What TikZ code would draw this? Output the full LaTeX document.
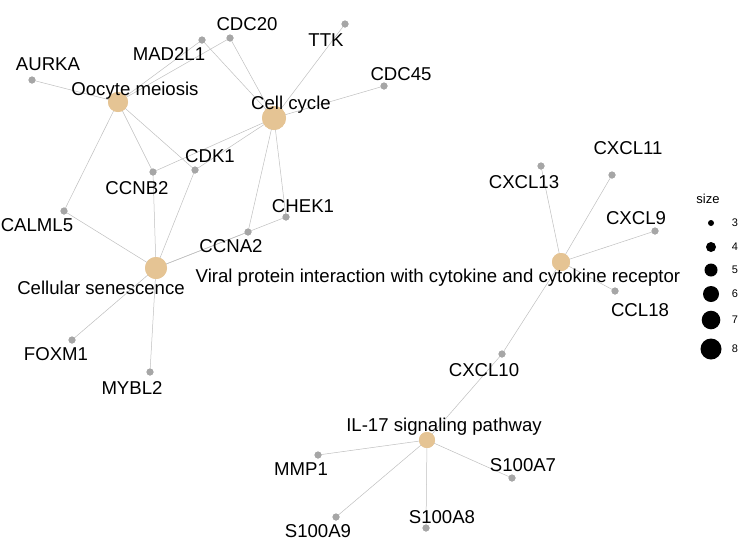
\documentclass[tikz,border=0pt]{standalone}
\usepackage{fontspec}
\setmainfont{Liberation Sans}
\usetikzlibrary{positioning}
\tikzset{
  term/.style={circle,fill=tan,inner sep=0pt},
  gene/.style={circle,fill=gray!70,minimum size=7pt,inner sep=0pt},
  lab/.style={font=\fontsize{18.6}{20}\selectfont,inner sep=1pt},
  link/.style={draw=gray!50,line width=0.5pt},
}
\definecolor{tan}{HTML}{E5C494}
\begin{document}
\begin{tikzpicture}[x=1pt,y=-1pt]
\useasboundingbox (0,0) rectangle (739,555);
% genes
\foreach \n/\x/\y/\lx/\ly in {AURKA/32/80/48/64, MAD2L1/202/40/169/54, CDC20/230/38/247/24,
  TTK/345/24/326/40, CDC45/384/86/401/74, CDK1/195/170/210/156, CCNB2/153/172/137/188,
  CHEK1/286/217/303/206, CCNA2/248/232/231/246, CALML5/64/211/37/225, FOXM1/72/340/56/354,
  MYBL2/150/372/132/388, CXCL13/541/166/524/182, CXCL11/612/175/628/148, CXCL9/655/231/636/218,
  CCL18/615/291/640/310, CXCL10/502/354/484/370, MMP1/318/455/301/469, S100A7/512/478/523/465,
  S100A9/336/517/318/531, S100A8/426/528/442/517}
  \node[gene] (\n) at (\x,\y) {};
% terms
\node[term,minimum size=20pt] (oocyte) at (118,102) {};
\node[term,minimum size=24pt] (cycle) at (274,118) {};
\node[term,minimum size=22pt] (senes) at (156,268) {};
\node[term,minimum size=18pt] (viral) at (561,262) {};
\node[term,minimum size=16pt] (il17) at (427,440) {};
% edges
\foreach \t/\gs in {oocyte/{AURKA,MAD2L1,CDC20,CDK1,CCNB2,CALML5},
  cycle/{MAD2L1,CDC20,TTK,CDC45,CDK1,CCNB2,CHEK1,CCNA2},
  senes/{CALML5,CCNB2,CDK1,CCNA2,CHEK1,FOXM1,MYBL2},
  viral/{CXCL13,CXCL11,CXCL9,CCL18,CXCL10},
  il17/{CXCL10,MMP1,S100A7,S100A9,S100A8}}
  \foreach \g in \gs
    \draw[link] (\t.center) -- (\g.center);
% redraw dots over edges
\foreach \n in {AURKA,MAD2L1,CDC20,TTK,CDC45,CDK1,CCNB2,CHEK1,CCNA2,CALML5,FOXM1,MYBL2,
  CXCL13,CXCL11,CXCL9,CCL18,CXCL10,MMP1,S100A7,S100A9,S100A8}
  \fill[gray!70] (\n) circle (3.5pt);
\fill[tan] (oocyte) circle (10pt);
\fill[tan] (cycle) circle (12pt);
\fill[tan] (senes) circle (11pt);
\fill[tan] (viral) circle (9pt);
\fill[tan] (il17) circle (8pt);
% labels
\foreach \n/\x/\y/\lx/\ly in {AURKA/32/80/48/64, MAD2L1/202/40/169/54, CDC20/230/38/247/24,
  TTK/345/24/326/40, CDC45/384/86/401/74, CDK1/195/170/210/156, CCNB2/153/172/137/188,
  CHEK1/286/217/303/206, CCNA2/248/232/231/246, CALML5/64/211/37/225, FOXM1/72/340/56/354,
  MYBL2/150/372/132/388, CXCL13/541/166/524/182, CXCL11/612/175/628/148, CXCL9/655/231/636/218,
  CCL18/615/291/640/310, CXCL10/502/354/484/370, MMP1/318/455/301/469, S100A7/512/478/523/465,
  S100A9/336/517/318/531, S100A8/426/528/442/517}
  \node[lab] (l\n) at (\lx,\ly) {\n};
\node[lab] (loocyte) at (135,91) {Oocyte meiosis};
\node[lab] (lcycle) at (291,105) {Cell cycle};
\node[lab] (lsenes) at (101,288) {Cellular senescence};
\node[lab] (lviral) at (438,278) {Viral protein interaction with cytokine and cytokine receptor};
\node[lab] (lil17) at (444,427) {IL-17 signaling pathway};
% legend
\node[font=\fontsize{13}{14}\selectfont] (lsize) at (708,199) {size};
\foreach \v/\y/\r in {3/223/3, 4/247/5, 5/270/6.5, 6/294/8, 7/320/9.3, 8/349/10.5}{
  \fill (711,\y) circle (\r pt);
  \node[font=\fontsize{11}{12}\selectfont] (s\v) at (735,\y) {\v};
}
\end{tikzpicture}
\end{document}
